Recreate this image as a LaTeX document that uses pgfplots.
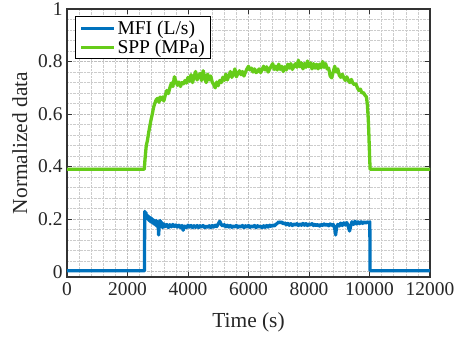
\documentclass[border=0pt]{standalone}
\usepackage{fontspec}
\setmainfont{Liberation Serif}
\usepackage{pgfplots}
\pgfplotsset{compat=1.18}
\definecolor{mfiblue}{RGB}{0,114,189}
\definecolor{sppgreen}{RGB}{102,204,26}
\begin{document}
\begin{tikzpicture}
\useasboundingbox (-67bp,-81bp) rectangle (407bp,277bp);
\begin{axis}[
  at={(0,0)}, anchor=south west,
  scale only axis, width=363bp, height=268bp,
  xmin=0, xmax=12000, ymin=-0.02, ymax=1,
  xtick={0,2000,4000,6000,8000,10000,12000},
  xticklabels={0,2000,4000,6000,8000,10000,12000},
  ytick={0,0.2,0.4,0.6,0.8,1},
  yticklabels={0,0.2,0.4,0.6,0.8,1},
  scaled x ticks=false,
  minor x tick num=4, minor y tick num=4,
  minor tick length=0pt, major tick length=5bp,
  tick align=inside, tick pos=both,
  grid=both,
  major grid style={gray!50, densely dotted, line width=0.7bp},
  minor grid style={gray!40, densely dotted, line width=0.6bp},
  axis line style={black!80, line width=1.2bp},
  every tick/.style={black!80, line width=1bp},
  tick label style={font=\fontsize{19.5}{21}\selectfont, black!85},
  /pgf/number format/assume math mode=true,
  xticklabel style={yshift=-2bp},
  yticklabel style={xshift=-1bp},
  xlabel={Time (s)}, ylabel={Normalized data},
  label style={font=\fontsize{21.5}{24}\selectfont, black!85},
  xlabel style={at={(axis description cs:0.5,-0.168)}, anchor=center},
  ylabel style={at={(axis description cs:-0.13,0.5)}, anchor=center, rotate=0},
  legend style={at={(axis description cs:0.022,0.974)}, anchor=north west,
    draw=black, line width=1.1bp, font=\fontsize{19.6}{22}\selectfont,
    inner xsep=4bp, inner ysep=2bp, row sep=0bp, fill=white,
    /tikz/every even column/.append style={column sep=1bp}},
  legend cell align=left,
  legend image code/.code={\draw[#1, line width=3bp] (0bp,0bp) -- (33bp,0bp);},
]
\addplot[mfiblue, line width=3.3bp, line join=round] coordinates {
(0,0.004) (2560,0.004) (2570,0.23) (2590,0.215) (2610,0.225) (2630,0.205) (2650,0.215)
(2670,0.20) (2690,0.212) (2710,0.195) (2730,0.208) (2760,0.19) (2780,0.205) (2800,0.188)
(2830,0.20) (2860,0.183) (2890,0.195) (2920,0.178) (2950,0.195) (2980,0.172) (3010,0.19)
(3030,0.14) (3050,0.185) (3080,0.195) (3100,0.172) (3130,0.188) (3160,0.168) (3200,0.182)
(3250,0.172) (3300,0.18) (3350,0.168) (3400,0.179) (3450,0.171) (3500,0.18) (3550,0.172)
(3600,0.178) (3650,0.17) (3700,0.177) (3750,0.168) (3800,0.176) (3840,0.158) (3880,0.174)
(3950,0.168) (4000,0.177) (4050,0.17) (4100,0.176) (4150,0.168) (4200,0.175) (4250,0.169)
(4300,0.176) (4350,0.168) (4400,0.175) (4450,0.17) (4500,0.176) (4550,0.168) (4600,0.174)
(4650,0.169) (4700,0.175) (4750,0.168) (4800,0.176) (4850,0.17) (4900,0.177) (4950,0.172)
(5000,0.182) (5050,0.192) (5100,0.18) (5150,0.174) (5200,0.179) (5250,0.171) (5300,0.177)
(5350,0.17) (5400,0.176) (5450,0.169) (5500,0.175) (5550,0.17) (5600,0.176) (5650,0.169)
(5700,0.175) (5750,0.17) (5800,0.176) (5850,0.168) (5900,0.175) (5950,0.17) (6000,0.176)
(6050,0.169) (6100,0.175) (6150,0.17) (6200,0.176) (6250,0.168) (6300,0.175) (6350,0.17)
(6400,0.174) (6450,0.168) (6500,0.175) (6550,0.169) (6600,0.176) (6650,0.17) (6700,0.177)
(6750,0.172) (6800,0.178) (6850,0.174) (6900,0.18) (6950,0.184) (7000,0.19) (7050,0.186)
(7100,0.19) (7150,0.182) (7200,0.186) (7250,0.179) (7300,0.184) (7350,0.177) (7400,0.183)
(7450,0.176) (7500,0.182) (7550,0.177) (7600,0.183) (7650,0.176) (7700,0.182) (7750,0.177)
(7800,0.184) (7850,0.177) (7900,0.183) (7950,0.176) (8000,0.182) (8050,0.178) (8100,0.183)
(8150,0.176) (8200,0.181) (8250,0.175) (8300,0.18) (8350,0.174) (8400,0.18) (8450,0.176)
(8500,0.182) (8550,0.176) (8600,0.181) (8650,0.175) (8700,0.182) (8750,0.176) (8800,0.18)
(8850,0.165) (8880,0.14) (8910,0.168) (8950,0.18) (9000,0.174) (9050,0.185) (9100,0.176)
(9150,0.186) (9200,0.178) (9250,0.187) (9300,0.172) (9340,0.155) (9380,0.175) (9420,0.19)
(9470,0.18) (9520,0.192) (9570,0.182) (9620,0.19) (9670,0.183) (9720,0.19) (9770,0.184)
(9820,0.19) (9870,0.185) (9920,0.19) (9970,0.186) (10010,0.19) (10020,0.004) (12000,0.004)
};
\addlegendentry{MFI (L/s)}
\addplot[sppgreen, line width=3.3bp, line join=round] coordinates {
(0,0.39) (2555,0.39) (2580,0.43) (2620,0.48) (2660,0.50) (2700,0.53) (2740,0.555) (2780,0.58)
(2820,0.60) (2860,0.625) (2900,0.64) (2950,0.655) (3000,0.66) (3040,0.645) (3080,0.665)
(3120,0.655) (3160,0.665) (3200,0.65) (3250,0.672) (3300,0.69) (3350,0.678) (3400,0.70)
(3450,0.718) (3500,0.705) (3550,0.742) (3600,0.725) (3650,0.71) (3700,0.722) (3750,0.705)
(3800,0.72) (3850,0.715) (3900,0.728) (3950,0.718) (4000,0.74) (4050,0.725) (4100,0.75)
(4150,0.72) (4200,0.742) (4250,0.762) (4300,0.73) (4350,0.745) (4400,0.755) (4450,0.728)
(4500,0.765) (4550,0.74) (4600,0.72) (4650,0.752) (4700,0.73) (4750,0.745) (4800,0.722)
(4850,0.712) (4900,0.70) (4950,0.722) (5000,0.708) (5050,0.728) (5100,0.72) (5150,0.74)
(5200,0.728) (5250,0.752) (5300,0.73) (5350,0.745) (5400,0.762) (5450,0.74) (5500,0.752)
(5550,0.772) (5600,0.742) (5650,0.755) (5700,0.765) (5750,0.75) (5800,0.762) (5850,0.745)
(5900,0.76) (5950,0.772) (6000,0.782) (6050,0.768) (6100,0.775) (6150,0.76) (6200,0.772)
(6250,0.758) (6300,0.762) (6350,0.772) (6400,0.758) (6450,0.77) (6500,0.782) (6550,0.768)
(6600,0.78) (6650,0.76) (6700,0.772) (6750,0.782) (6800,0.792) (6850,0.77) (6900,0.782)
(6950,0.768) (7000,0.79) (7050,0.77) (7100,0.782) (7150,0.762) (7200,0.78) (7250,0.768)
(7300,0.79) (7350,0.775) (7400,0.792) (7450,0.77) (7500,0.782) (7550,0.792) (7600,0.778)
(7650,0.805) (7700,0.78) (7750,0.795) (7800,0.772) (7850,0.792) (7900,0.778) (7950,0.802)
(8000,0.78) (8050,0.795) (8100,0.772) (8150,0.792) (8200,0.775) (8250,0.79) (8300,0.772)
(8350,0.79) (8400,0.776) (8450,0.80) (8500,0.778) (8550,0.792) (8600,0.772) (8650,0.775)
(8700,0.745) (8750,0.738) (8800,0.76) (8850,0.782) (8900,0.76) (8950,0.772) (9000,0.748)
(9050,0.74) (9100,0.752) (9150,0.738) (9200,0.728) (9250,0.742) (9300,0.728) (9350,0.72)
(9400,0.732) (9450,0.718) (9500,0.712) (9550,0.715) (9600,0.70) (9650,0.69) (9700,0.695)
(9750,0.68) (9800,0.682) (9850,0.672) (9900,0.665) (9930,0.635) (9960,0.58) (9980,0.52)
(10000,0.45) (10020,0.39) (12000,0.39)
};
\addlegendentry{SPP (MPa)}
\end{axis}
\end{tikzpicture}
\end{document}
